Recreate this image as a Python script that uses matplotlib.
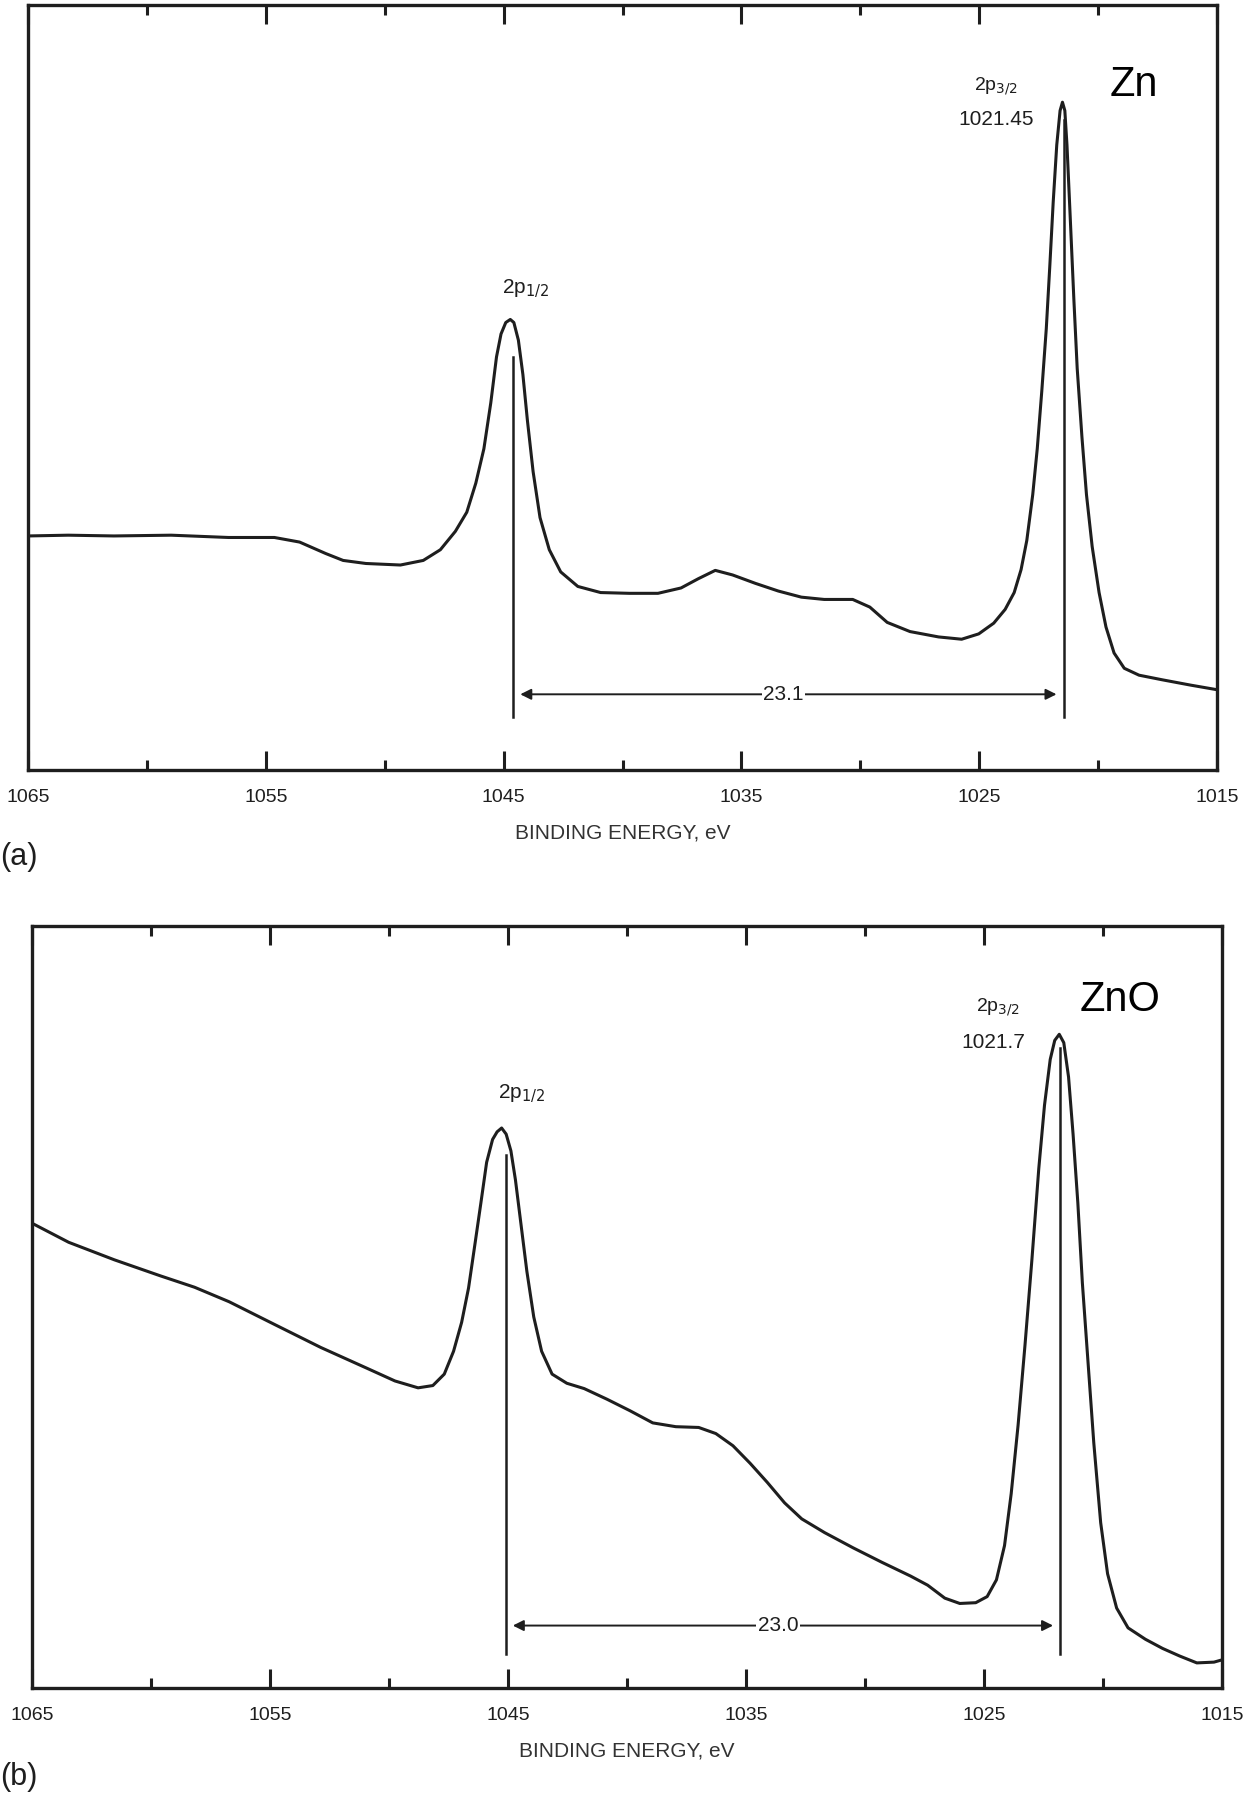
import numpy as np
import matplotlib
matplotlib.use("Agg")
import matplotlib.pyplot as plt

plt.rcParams['font.family'] = ['Liberation Sans', 'DejaVu Sans']

# (a) Zn metal, binding energy (eV) vs intensity (arb.)
zn_energy = [1065.00, 1063.31, 1061.39, 1058.98, 1056.57, 1054.64, 1053.58, 1052.48,
             1051.75, 1050.79, 1049.34, 1048.38, 1047.66, 1047.03, 1046.55, 1046.17,
             1045.83, 1045.54, 1045.30, 1045.11, 1044.91, 1044.72, 1044.57, 1044.38,
             1044.19, 1044.00, 1043.76, 1043.47, 1043.08, 1042.60, 1041.88, 1040.92,
             1039.71, 1038.51, 1037.54, 1036.82, 1036.10, 1035.37, 1034.41, 1033.45,
             1032.48, 1031.52, 1030.32, 1029.60, 1028.87, 1027.91, 1026.71, 1025.74,
             1025.02, 1024.39, 1023.91, 1023.53, 1023.24, 1023.00, 1022.75, 1022.56,
             1022.37, 1022.18, 1022.03, 1021.89, 1021.74, 1021.60, 1021.50, 1021.40,
             1021.31, 1021.17, 1021.02, 1020.88, 1020.68, 1020.49, 1020.25, 1019.96,
             1019.67, 1019.33, 1018.90, 1018.28, 1017.31, 1016.11, 1015.00]
zn_counts = [30.6, 30.7, 30.6, 30.7, 30.4, 30.4, 29.8, 28.3,
             27.4, 27.0, 26.8, 27.4, 28.8, 31.2, 33.7, 37.5,
             42.0, 48.0, 54.0, 57.0, 58.5, 58.9, 58.5, 56.2,
             51.7, 45.7, 39.0, 33.0, 28.8, 25.9, 24.0, 23.2,
             23.1, 23.1, 23.8, 25.0, 26.1, 25.5, 24.4, 23.4,
             22.6, 22.3, 22.3, 21.3, 19.3, 18.1, 17.4, 17.1,
             17.8, 19.2, 21.0, 23.2, 26.2, 30.0, 36.0, 42.0,
             49.5, 57.7, 66.0, 74.2, 81.7, 86.2, 87.3, 86.2,
             81.7, 72.0, 61.5, 52.5, 43.5, 36.0, 29.2, 23.2,
             18.7, 15.3, 13.3, 12.4, 11.8, 11.1, 10.5]

# (b) ZnO
zno_energy = [1065.00, 1063.46, 1061.54, 1059.61, 1058.17, 1056.72, 1054.80, 1052.87,
              1050.95, 1049.75, 1048.78, 1048.16, 1047.68, 1047.29, 1046.95, 1046.66,
              1046.38, 1046.14, 1045.90, 1045.65, 1045.46, 1045.27, 1045.08, 1044.88,
              1044.69, 1044.45, 1044.21, 1043.92, 1043.59, 1043.15, 1042.53, 1041.80,
              1040.84, 1039.88, 1038.92, 1037.95, 1036.99, 1036.27, 1035.55, 1034.83,
              1034.11, 1033.38, 1032.66, 1031.70, 1030.50, 1029.29, 1028.09, 1027.37,
              1026.65, 1026.02, 1025.35, 1024.87, 1024.48, 1024.14, 1023.86, 1023.57,
              1023.28, 1022.99, 1022.70, 1022.46, 1022.22, 1022.03, 1021.84, 1021.65,
              1021.45, 1021.26, 1021.06, 1020.87, 1020.63, 1020.39, 1020.10, 1019.81,
              1019.43, 1018.95, 1018.22, 1017.50, 1016.78, 1016.06, 1015.34, 1015.00]
zno_counts = [61.0, 58.5, 56.2, 54.1, 52.6, 50.7, 47.7, 44.7,
              42.0, 40.3, 39.4, 39.7, 41.2, 44.2, 48.0, 52.5,
              58.5, 63.7, 69.0, 72.0, 73.0, 73.5, 72.7, 70.5,
              66.7, 60.7, 54.7, 48.7, 44.2, 41.2, 40.0, 39.3,
              37.9, 36.4, 34.8, 34.3, 34.2, 33.4, 31.8, 29.5,
              27.0, 24.3, 22.2, 20.4, 18.4, 16.5, 14.7, 13.5,
              11.8, 11.1, 11.2, 12.0, 14.2, 18.7, 25.5, 34.5,
              45.0, 56.2, 68.2, 76.5, 82.5, 85.0, 85.8, 84.7,
              80.2, 72.7, 63.7, 53.2, 42.7, 32.2, 21.7, 15.0,
              10.5, 7.9, 6.4, 5.2, 4.2, 3.3, 3.4, 3.7]

# peak marker lines: energy, top of line
zn_lines = [1044.6, 1021.45]
zn_line_top = [54, 85]
zno_lines = [1045.1, 1021.8]
zno_line_top = [70, 84]

major_ticks = [1065, 1055, 1045, 1035, 1025, 1015]
minor_ticks = [1060, 1050, 1040, 1030, 1020]

ink = '#1e1e1e'

fig = plt.figure(figsize=(12.57, 18), dpi=100)
ax1 = fig.add_axes([0.0223, 0.5722, 0.9459, 0.4250])
ax2 = fig.add_axes([0.0255, 0.0622, 0.9467, 0.4233])


def setup(ax):
    ax.set_xlim(1065, 1015)
    ax.set_ylim(0, 100)
    ax.set_yticks([])
    ax.set_xticks(major_ticks)
    ax.set_xticks(minor_ticks, minor=True)
    ax.set_xticklabels([str(t) for t in major_ticks])
    ax.tick_params(axis='x', which='major', direction='in', length=14, width=2.2,
                   top=True, colors=ink, labelsize=14, pad=14)
    ax.tick_params(axis='x', which='minor', direction='in', length=7, width=2.2,
                   top=True, colors=ink)
    for sp in ax.spines.values():
        sp.set_linewidth(2.4)
        sp.set_color(ink)
    ax.set_xlabel('BINDING ENERGY, eV', fontsize=15, color='#333333', labelpad=12)


def arrow(ax, x0, x1, y, text):
    ax.annotate('', xy=(x0, y), xytext=(x1, y),
                arrowprops=dict(arrowstyle='<|-|>', color=ink, lw=1.4,
                                mutation_scale=16, shrinkA=0, shrinkB=0))
    ax.text((x0 + x1) / 2 + 0.2, y, text, ha='center', va='center', fontsize=15,
            color=ink, bbox=dict(facecolor='white', edgecolor='none', pad=1))


# panel (a)
setup(ax1)
ax1.plot(zn_energy, zn_counts, color=ink, lw=2.2)
for x, top in zip(zn_lines, zn_line_top):
    ax1.plot([x, x], [6.9, top], color=ink, lw=1.8)
arrow(ax1, 1044.3, 1021.75, 9.9, '23.1')
ax1.text(1044.1, 61.5, r'2p$_{1/2}$', ha='center', va='bottom', fontsize=15, color=ink)
ax1.text(1024.3, 88.0, r'2p$_{3/2}$', ha='center', va='bottom', fontsize=14, color=ink)
ax1.text(1024.3, 85.0, '1021.45', ha='center', va='center', fontsize=15, color=ink)
ax1.text(1018.5, 89.5, 'Zn', ha='center', va='center', fontsize=30, color='black')
fig.text(0.0, 1 - 857 / 1800, '(a)', ha='left', va='center', fontsize=22, color=ink)

# panel (b)
setup(ax2)
ax2.plot(zno_energy, zno_counts, color=ink, lw=2.2)
for x, top in zip(zno_lines, zno_line_top):
    ax2.plot([x, x], [4.5, top], color=ink, lw=1.8)
arrow(ax2, 1044.8, 1022.1, 8.2, '23.0')
ax2.text(1044.45, 76.5, r'2p$_{1/2}$', ha='center', va='bottom', fontsize=15, color=ink)
ax2.text(1024.4, 88.0, r'2p$_{3/2}$', ha='center', va='bottom', fontsize=14, color=ink)
ax2.text(1024.6, 84.7, '1021.7', ha='center', va='center', fontsize=15, color=ink)
ax2.text(1019.3, 90.3, 'ZnO', ha='center', va='center', fontsize=30, color='black')
fig.text(0.0, 1 - 1777 / 1800, '(b)', ha='left', va='center', fontsize=22, color=ink)

fig.savefig('out.png', dpi=100)
